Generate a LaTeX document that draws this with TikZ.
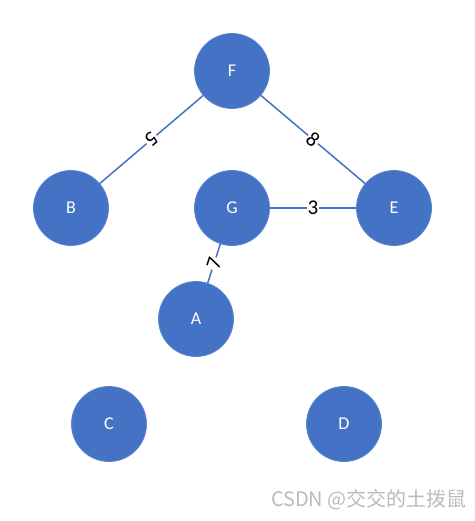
\documentclass[tikz,border=0pt]{standalone}
\usepackage{fontspec}
\setmainfont{Carlito}
\newfontfamily\cjkfont{Noto Sans CJK SC}
\definecolor{nodeblue}{HTML}{4472C4}
\definecolor{nodeedge}{HTML}{5B84CE}
\definecolor{wmgray}{HTML}{BABABA}
\begin{document}
\begin{tikzpicture}[x=1pt,y=-1pt,
  vtx/.style={circle,fill=nodeblue,draw=nodeedge,line width=0.8pt,minimum size=75pt,inner sep=0pt,text=white,font=\fontsize{18}{21}\selectfont},
  edgeline/.style={draw=nodeblue,line width=1.5pt},
  wlabel/.style={fill=white,inner sep=1pt,text=black,font=\fontsize{21}{24}\selectfont}]
\useasboundingbox (0,0) rectangle (474,521);
\node[vtx] (F) at (232,71) {F};
\node[vtx] (B) at (71,208) {B};
\node[vtx] (G) at (232,208) {G};
\node[vtx] (E) at (394,208) {E};
\node[vtx] (A) at (196,319) {A};
\node[vtx] (C) at (109,424) {C};
\node[vtx] (D) at (344,424) {D};
\draw[edgeline] (F) -- node[wlabel,rotate=220.4] (l5) {5} (B);
\draw[edgeline] (F) -- node[wlabel,sloped] (l8) {8} (E);
\draw[edgeline] (G) -- node[wlabel] (l3) {3} (E);
\draw[edgeline] (G) -- node[wlabel,sloped] (l7) {7} (A);
\node[anchor=east,text=wmgray,inner sep=0pt,font=\cjkfont\fontsize{20}{23}\selectfont] (wm) at (467,500) {CSDN @交交的土拨鼠};
\end{tikzpicture}
\end{document}
